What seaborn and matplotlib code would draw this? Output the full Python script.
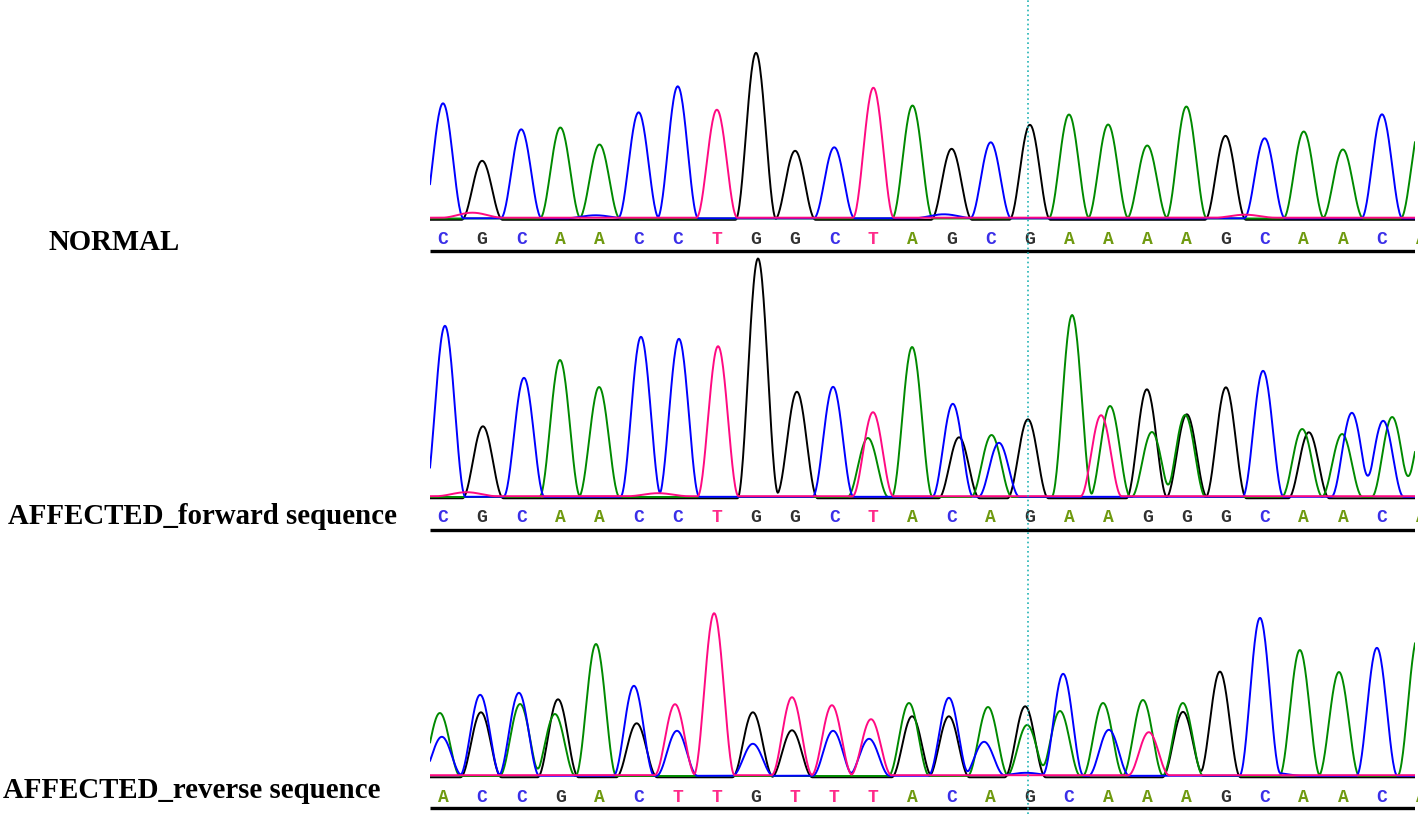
import numpy as np
import pandas as pd
import matplotlib
matplotlib.use("Agg")
import matplotlib.pyplot as plt
import seaborn as sns
from matplotlib.lines import Line2D

# ---------------- data ----------------
panel_labels = ["NORMAL", "AFFECTED_forward sequence", "AFFECTED_reverse sequence"]

seq_normal = list("CGCAACCTGGCTAGCGAAAAGCAACA")
seq_forward = list("CGCAACCTGGCTACAGAAGGGCAACA")
seq_reverse = list("ACCGACTTGTTTACAGCAAAGCAACA")

# peaks: position (base-call index), channel, height (signal units)
normal_pos = list(range(26))
normal_base = list("CGCAACCTGGCTAGCGAAAAGCAACA")
normal_height = [115, 59, 89, 91, 74, 106, 132, 108, 167, 69, 71, 130, 113,
                 71, 76, 95, 104, 94, 73, 112, 84, 80, 87, 69, 104, 96]

forward_pos = [0.05, 1.02, 2.07, 2.99, 3.99, 5.06, 6.03, 7.03, 8.05, 9.05, 9.97,
               10.99, 10.86, 11.99, 13.03, 13.19, 14.02, 14.21, 14.95, 16.08,
               17.05, 16.82, 17.99, 18.12, 18.97, 19.01, 20.01, 20.96, 21.96,
               22.13, 22.98, 23.23, 24.03, 24.26, 25.05]
forward_base = ["C", "G", "C", "A", "A", "C", "C", "T", "G", "G", "C",
                "T", "A", "A", "C", "G", "A", "C", "G", "A",
                "A", "T", "G", "A", "A", "G", "G", "C", "A",
                "G", "A", "C", "C", "A", "A"]
forward_height = [171, 72, 119, 137, 110, 160, 158, 150, 239, 105, 110,
                  84, 59, 150, 93, 61, 62, 54, 79, 182,
                  91, 81, 109, 65, 82, 81, 111, 126, 68,
                  66, 63, 84, 76, 80, 68]

reverse_pos = [-0.08, -0.03, 0.95, 0.97, 1.94, 1.97, 2.94, 2.86, 3.91, 4.88, 4.95,
               5.93, 5.98, 6.93, 7.92, 7.92, 8.92, 8.92, 9.94, 9.97, 10.94, 10.89,
               11.91, 11.99, 12.93, 12.93, 13.93, 13.83, 14.88, 14.93, 15.85, 15.77,
               16.87, 17.02, 17.89, 18.04, 18.91, 18.91, 19.86, 20.88, 21.90, 22.90,
               23.87, 24.92]
reverse_base = ["A", "C", "C", "G", "C", "A", "G", "A", "A", "C", "G",
                "T", "C", "T", "G", "C", "T", "G", "T", "C", "T", "C",
                "A", "G", "C", "G", "A", "C", "G", "A", "C", "A",
                "A", "C", "A", "T", "A", "G", "G", "C", "A", "A",
                "C", "A"]
reverse_height = [63, 39, 81, 65, 83, 72, 78, 62, 132, 90, 54,
                  71, 45, 162, 65, 32, 78, 47, 70, 45, 56, 37,
                  73, 61, 78, 61, 69, 34, 71, 51, 102, 65,
                  73, 46, 76, 43, 73, 65, 104, 156, 126, 104,
                  128, 140]

# small baseline bumps (position, channel, height)
noise_pos = [[0.75, 3.9, 12.8, 20.5], [0.6, 5.5, 8.6, 19.0], [14.9, 19.5, 21.2]]
noise_base = [["T", "C", "C", "T"], ["T", "T", "G", "G"], ["C", "G", "C"]]
noise_height = [[5, 3, 4, 3], [4, 3, 4, 3], [3, 3, 3]]

colors = {"A": "#008a00", "C": "#0000ff", "G": "#000000", "T": "#ff0a82"}
letter_colors = {"A": "#6f9a10", "C": "#3a2ee8", "G": "#303030", "T": "#ff2a8a"}
base_offset = {"A": 1.0, "C": 1.2, "G": -0.3, "T": 1.8}

# ---------------- layout ----------------
W, H = 1418, 814
fig = plt.figure(figsize=(W / 100, H / 100), dpi=100)
sns.set_style("white")
fig.patch.set_facecolor("white")

x_left_px, x_right_px = 430, 1415
first_call_px, spacing_px = 443, 39.125
xlim = ((x_left_px - first_call_px) / spacing_px, (x_right_px - first_call_px) / spacing_px)

panels = [
    dict(seq=seq_normal, pos=normal_pos, base=normal_base, h=normal_height,
         top=30, bottom=256, baseline=219.5, letter=240, bar=251,
         label_x=48, label_y=242),
    dict(seq=seq_forward, pos=forward_pos, base=forward_base, h=forward_height,
         top=256, bottom=536, baseline=498, letter=517, bar=530,
         label_x=8, label_y=517),
    dict(seq=seq_reverse, pos=reverse_pos, base=reverse_base, h=reverse_height,
         top=560, bottom=814, baseline=777, letter=797, bar=808,
         label_x=3, label_y=791),
]

half_w = 20.5 / spacing_px   # half width of a peak (raised-cosine shape)


def peak(x, centre, height, w):
    d = np.abs(x - centre)
    return np.where(d < w, height * np.cos(np.pi * d / (2 * w)) ** 2, 0.0)


xs = np.linspace(xlim[0], xlim[1] + 0.2, 1400)

for k, p in enumerate(panels):
    ax = fig.add_axes([x_left_px / W, 1 - p["bottom"] / H,
                       (x_right_px - x_left_px) / W, (p["bottom"] - p["top"]) / H])
    ax.set_xlim(*xlim)
    ax.set_ylim(p["baseline"] - p["bottom"], p["baseline"] - p["top"])
    ax.axis("off")

    frames = []
    for ch in ["G", "A", "C", "T"]:
        sig = np.full_like(xs, base_offset[ch])
        for ps, b, hh in zip(p["pos"], p["base"], p["h"]):
            if b == ch:
                sig += peak(xs, ps, hh, half_w)
        for ps, b, hh in zip(noise_pos[k], noise_base[k], noise_height[k]):
            if b == ch:
                sig += peak(xs, ps, hh, half_w * 1.5)
        frames.append(pd.DataFrame({"x": xs, "signal": sig, "channel": ch}))
    df = pd.concat(frames, ignore_index=True)
    sns.lineplot(data=df, x="x", y="signal", hue="channel",
                 hue_order=["G", "A", "C", "T"], palette=colors,
                 estimator=None, sort=False, legend=False, linewidth=1.4,
                 ax=ax)

    ly = p["baseline"] - p["letter"]
    for i, b in enumerate(p["seq"]):
        ax.text(i, ly, b, color=letter_colors[b], ha="center", va="center",
                fontsize=13, family="Liberation Mono", fontweight="bold",
                clip_on=False)
    by = p["baseline"] - p["bar"]
    ax.plot(xlim, [by, by], color="black", linewidth=2.4, solid_capstyle="butt")

    fig.text(p["label_x"] / W, 1 - p["label_y"] / H, panel_labels[k],
             ha="left", va="center", fontsize=20.8, fontweight="bold",
             family="Liberation Serif", color="black")

fig.add_artist(Line2D([1028 / W, 1028 / W], [0, 1], transform=fig.transFigure,
                      color="#22b4b4", linewidth=1.2, linestyle=(0, (1, 1.8))))

fig.savefig("out.png", dpi=100, facecolor="white")
